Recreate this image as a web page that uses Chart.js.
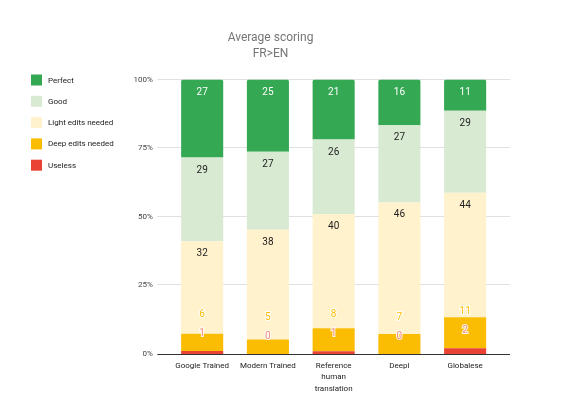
<!DOCTYPE html>
<html>
<head>
<meta charset="utf-8">
<script src="https://cdn.jsdelivr.net/npm/chart.js@4"></script>
<style>
  html, body { margin: 0; padding: 0; background: #fff; }
  #wrap { width: 582px; height: 410px; position: relative; }
</style>
</head>
<body>
<div id="wrap"><canvas id="scoreChart"></canvas></div>
<script>
// Average scoring FR>EN - counts per rating, stacked to 100%
const categories = ["Google Trained", "Modern Trained", ["Reference", "human", "translation"], "Deepl", "Globalese"];
const seriesNames = ["Useless", "Deep edits needed", "Light edits needed", "Good", "Perfect"];
const useless = [1, 0, 1, 0, 2];
const deepEdits = [6, 5, 8, 7, 11];
const lightEdits = [32, 38, 40, 46, 44];
const good = [29, 27, 26, 27, 29];
const perfect = [27, 25, 21, 16, 11];
const yTicks = [0, 25, 50, 75, 100];

const seriesColors = ["#ea4335", "#fbbc04", "#fff2cc", "#d9ead3", "#34a853"];
const outsideColors = ["#f28b82", "#fbbc04"];
const FONT = "Roboto, 'Liberation Sans', Arial, sans-serif";

const counts = [useless, deepEdits, lightEdits, good, perfect];
const totals = categories.map((c, i) => counts.reduce((s, arr) => s + arr[i], 0));

const datasets = counts.map((arr, k) => ({
  label: seriesNames[k],
  raw: arr,
  data: arr.map((v, i) => (v / totals[i]) * 100),
  backgroundColor: seriesColors[k],
  borderWidth: 0,
  borderRadius: k === counts.length - 1 ? { topLeft: 2, topRight: 2, bottomLeft: 0, bottomRight: 0 } : 0,
  borderSkipped: false,
}));

const GRID_EXT = 12;

const overlay = {
  id: "overlay",
  beforeDatasetsDraw(chart) {
    const { ctx, chartArea, scales } = chart;
    ctx.save();
    ctx.lineWidth = 1;
    yTicks.forEach((t) => {
      if (t === 0) return;
      const py = Math.round(scales.y.getPixelForValue(t)) - 0.5;
      ctx.strokeStyle = "#e0e0e0";
      ctx.beginPath();
      ctx.moveTo(chartArea.left - GRID_EXT, py);
      ctx.lineTo(chartArea.right + GRID_EXT, py);
      ctx.stroke();
    });
    ctx.restore();
  },
  afterDatasetsDraw(chart) {
    const { ctx, chartArea, scales } = chart;
    ctx.save();
    // baseline
    const by = Math.round(scales.y.getPixelForValue(0)) + 0.5;
    ctx.strokeStyle = "#333";
    ctx.lineWidth = 1;
    ctx.beginPath();
    ctx.moveTo(chartArea.left - GRID_EXT, by);
    ctx.lineTo(chartArea.right + GRID_EXT, by);
    ctx.stroke();

    // value labels
    ctx.font = "10px " + FONT;
    ctx.textAlign = "center";
    ctx.textBaseline = "middle";
    categories.forEach((c, i) => {
      let prev = null;
      chart.data.datasets.forEach((ds, k) => {
        const bar = chart.getDatasetMeta(k).data[i];
        const top = bar.y, h = bar.base - bar.y;
        let y = top + 12.5;
        let inside = h >= 22 && (prev === null || prev - y >= 16);
        if (!inside) y = prev !== null ? prev - 19 : top - 18;
        prev = y;
        const txt = String(ds.raw[i]);
        if (inside) {
          ctx.fillStyle = k === counts.length - 1 ? "#ffffff" : "#222222";
          ctx.fillText(txt, bar.x, y);
        } else {
          ctx.lineWidth = 2;
          ctx.strokeStyle = "rgba(255,255,255,0.9)";
          ctx.strokeText(txt, bar.x, y);
          ctx.fillStyle = outsideColors[k] || seriesColors[k];
          ctx.fillText(txt, bar.x, y);
        }
      });
    });
    ctx.restore();
  },
  afterDraw(chart) {
    const { ctx } = chart;
    ctx.save();
    // title
    ctx.fillStyle = "#757575";
    ctx.font = "12px " + FONT;
    ctx.textAlign = "center";
    ctx.textBaseline = "middle";
    ctx.fillText("Average scoring", 270.5, 37.5);
    ctx.fillText("FR>EN", 270.5, 54);

    // legend, top series first
    ctx.font = "8px " + FONT;
    ctx.textAlign = "left";
    const items = chart.data.datasets.slice().reverse();
    items.forEach((ds, j) => {
      const y0 = 74.5 + j * 21.3;
      ctx.fillStyle = ds.backgroundColor;
      ctx.fillRect(31, y0, 11, 11);
      ctx.fillStyle = "#222";
      ctx.fillText(ds.label, 48, y0 + 6);
    });
    ctx.restore();
  },
};

new Chart(document.getElementById("scoreChart"), {
  type: "bar",
  data: { labels: categories, datasets: datasets },
  options: {
    responsive: true,
    maintainAspectRatio: false,
    animation: false,
    devicePixelRatio: 1,
    layout: { padding: { left: 0, right: 84, top: 79.5, bottom: 0 } },
    plugins: {
      legend: { display: false },
      title: { display: false },
      tooltip: { enabled: false },
    },
    datasets: { bar: { categoryPercentage: 1, barPercentage: 0.64 } },
    scales: {
      x: {
        stacked: true,
        grid: { display: false, drawTicks: false },
        border: { display: false },
        ticks: {
          color: "#222",
          font: { family: FONT, size: 8, lineHeight: 1.45 },
          padding: 6,
          maxRotation: 0,
          autoSkip: false,
        },
        afterFit: (scale) => { scale.height = 56; },
      },
      y: {
        stacked: true,
        min: 0,
        max: 100,
        grid: { display: false, drawTicks: false },
        border: { display: false },
        afterBuildTicks: (scale) => { scale.ticks = yTicks.map((v) => ({ value: v })); },
        ticks: {
          color: "#444",
          font: { family: FONT, size: 8 },
          padding: 16.5,
          callback: (v) => v + "%",
        },
        afterFit: (scale) => { scale.width = 169.3; },
      },
    },
  },
  plugins: [overlay],
});
</script>
</body>
</html>
